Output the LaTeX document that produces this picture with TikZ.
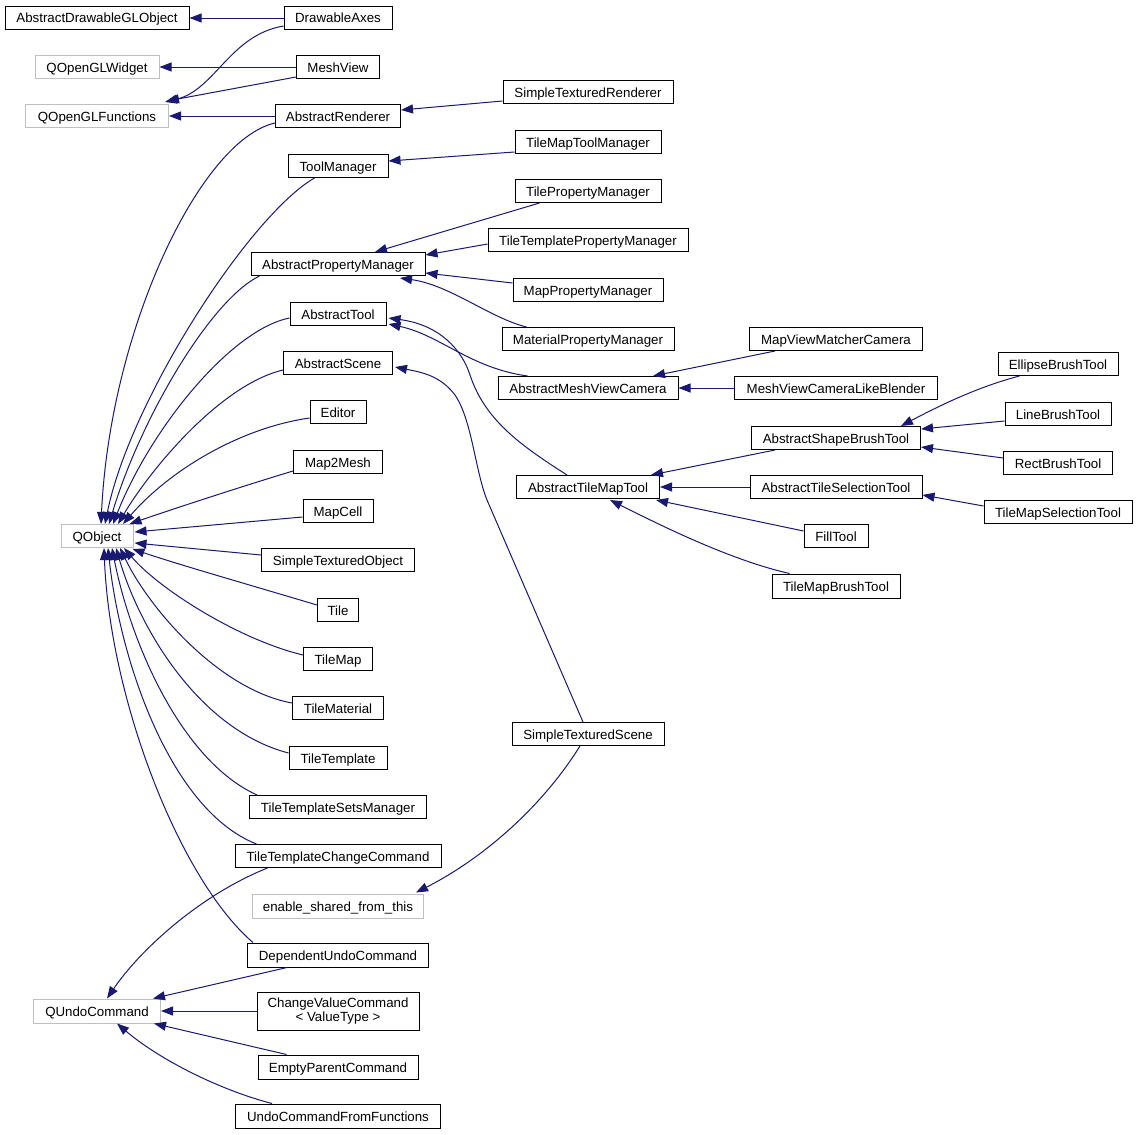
\documentclass[tikz,border=0pt]{standalone}
\usepackage{fontspec}
\setmainfont{Liberation Sans}
\usetikzlibrary{arrows.meta}
\definecolor{navy}{HTML}{191970}
\definecolor{extgray}{HTML}{BFBFBF}
\newcommand\dxfont{\fontsize{13.3}{15}\selectfont}
\begin{document}
\begin{tikzpicture}[x=1pt,y=-1pt,
  basebox/.style={draw=black, line width=1pt, fill=white, minimum height=23pt, inner sep=0pt, font=\dxfont},
  cls/.style={basebox, text height=10pt, text depth=0pt},
  ext/.style={cls, draw=extgray},
  edge/.style={draw=navy, line width=1pt, -{Triangle[length=12pt,width=9pt]}}]
\useasboundingbox (0,0) rectangle (1138,1135);
% nodes
\node[cls, minimum width=184pt] (adgl) at (97,18) {AbstractDrawableGLObject};
\node[cls, minimum width=108pt] (daxes) at (338,18) {DrawableAxes};
\node[ext, minimum width=124pt] (qglw) at (97,67) {QOpenGLWidget};
\node[cls, minimum width=83pt] (meshview) at (338,67) {MeshView};
\node[ext, minimum width=143pt] (qglf) at (97,116) {QOpenGLFunctions};
\node[cls, minimum width=125pt] (arend) at (338,116) {AbstractRenderer};
\node[cls, minimum width=170pt] (strend) at (588,92) {SimpleTexturedRenderer};
\node[cls, minimum width=100pt] (toolmgr) at (338,166) {ToolManager};
\node[cls, minimum width=146pt] (tmtm) at (588,142) {TileMapToolManager};
\node[cls, minimum width=146pt] (tpm) at (588,191) {TilePropertyManager};
\node[cls, minimum width=174pt] (apm) at (338,264) {AbstractPropertyManager};
\node[cls, minimum width=200pt] (ttpm) at (588,240) {TileTemplatePropertyManager};
\node[cls, minimum width=150pt] (mpm) at (588,290) {MapPropertyManager};
\node[cls, minimum width=172pt] (matpm) at (588,339) {MaterialPropertyManager};
\node[cls, minimum width=96pt] (atool) at (338,314) {AbstractTool};
\node[cls, minimum width=109pt] (ascene) at (338,363) {AbstractScene};
\node[cls, minimum width=180pt] (amvc) at (588,388) {AbstractMeshViewCamera};
\node[cls, minimum width=173pt] (mvmc) at (836,339) {MapViewMatcherCamera};
\node[cls, minimum width=203pt] (mvclb) at (836,388) {MeshViewCameraLikeBlender};
\node[cls, minimum width=56pt] (editor) at (338,412) {Editor};
\node[cls, minimum width=89pt] (map2mesh) at (338,462) {Map2Mesh};
\node[cls, minimum width=70pt] (mapcell) at (338,511) {MapCell};
\node[ext, minimum width=72pt] (qobject) at (97,536) {QObject};
\node[cls, minimum width=153pt] (sto) at (338,560) {SimpleTexturedObject};
\node[cls, minimum width=41pt] (tile) at (338,610) {Tile};
\node[cls, minimum width=69pt] (tilemap) at (338,659) {TileMap};
\node[cls, minimum width=91pt] (tilematerial) at (338,708) {TileMaterial};
\node[cls, minimum width=98pt] (tiletemplate) at (338,758) {TileTemplate};
\node[cls, minimum width=177pt] (ttsm) at (338,807) {TileTemplateSetsManager};
\node[cls, minimum width=206pt] (ttcc) at (338,856) {TileTemplateChangeCommand};
\node[ext, minimum width=171pt, minimum height=24pt] (esft) at (338,906) {enable\_shared\_from\_this};
\node[cls, minimum width=181pt, minimum height=24pt] (duc) at (338,955) {DependentUndoCommand};
\node[ext, minimum width=127pt, minimum height=24pt] (quc) at (97,1011) {QUndoCommand};
\node[basebox, minimum width=162pt, minimum height=38pt, align=center] (cvc) at (338,1011) {ChangeValueCommand\\[-1pt]{<} ValueType {>}};
\node[cls, minimum width=160pt, minimum height=24pt] (epc) at (338,1067) {EmptyParentCommand};
\node[cls, minimum width=205pt, minimum height=24pt] (ucff) at (338,1116) {UndoCommandFromFunctions};
\node[cls, minimum width=152pt] (sts) at (588,734) {SimpleTexturedScene};
\node[cls, minimum width=143pt] (atmt) at (588,487) {AbstractTileMapTool};
\node[cls, minimum width=169pt] (asbt) at (836,438) {AbstractShapeBrushTool};
\node[cls, minimum width=172pt] (atst) at (836,487) {AbstractTileSelectionTool};
\node[cls, minimum width=64pt] (filltool) at (836,536) {FillTool};
\node[cls, minimum width=128pt, minimum height=24pt] (tmbt) at (836,586) {TileMapBrushTool};
\node[cls, minimum width=120pt] (ebt) at (1058,364) {EllipseBrushTool};
\node[cls, minimum width=106pt] (lbt) at (1058,414) {LineBrushTool};
\node[cls, minimum width=109pt] (rbt) at (1058,463) {RectBrushTool};
\node[cls, minimum width=148pt] (tmst) at (1058,512) {TileMapSelectionTool};
% edges: upper left
\draw[edge] (daxes.west) -- (adgl.east);
\draw[edge] ([shift={(0,8)}]daxes.west) .. controls (230,35) and (215,90) .. ([shift={(-4,-2)}]qglf.north east);
\draw[edge] (meshview.west) -- (qglw.east);
\draw[edge] ([shift={(0,-2)}]meshview.south west) -- ([shift={(-2,-3)}]qglf.north east);
\draw[edge] (arend.west) -- (qglf.east);
\draw[edge] ([shift={(0,-3)}]strend.south west) -- ([shift={(0,-6)}]arend.east);
\draw[edge] ([shift={(0,-2)}]tmtm.south west) -- ([shift={(0,-5)}]toolmgr.east);
% property managers
\draw[edge] ([shift={(25,0)}]tpm.south west) -- ([shift={(37,0)}]apm.north);
\draw[edge] ([shift={(0,4)}]ttpm.west) -- ([shift={(0,-9)}]apm.east);
\draw[edge] ([shift={(0,-7)}]mpm.west) -- ([shift={(0,9)}]apm.east);
\draw[edge] ([shift={(25,0)}]matpm.north west) .. controls (490,318) and (450,285) .. ([shift={(62,2)}]apm.south);
% tools
\draw[edge] ([shift={(30,0)}]amvc.north west) .. controls (470,368) and (440,335) .. ([shift={(2,10)}]atool.east);
\draw[edge] ([shift={(-21,0)}]atmt.north) .. controls (520,445) and (485,420) .. (470,375) .. controls (462,350) and (440,325) .. ([shift={(2,4)}]atool.east);
\draw[edge] ([shift={(26,0)}]mvmc.south west) -- ([shift={(65,0)}]amvc.north);
\draw[edge] (mvclb.west) -- (amvc.east);
\draw[edge] ([shift={(24,0)}]asbt.south west) -- ([shift={(-9,0)}]atmt.north east);
\draw[edge] (atst.west) -- (atmt.east);
\draw[edge] ([shift={(0,-5)}]filltool.west) -- ([shift={(-4,1)}]atmt.south east);
\draw[edge] ([shift={(18,0)}]tmbt.north west) .. controls (730,560) and (660,525) .. ([shift={(22,1)}]atmt.south);
\draw[edge] ([shift={(22,0)}]ebt.south west) .. controls (985,385) and (950,400) .. ([shift={(-20,0)}]asbt.north east);
\draw[edge] ([shift={(0,7)}]lbt.west) -- ([shift={(0,-9)}]asbt.east);
\draw[edge] ([shift={(0,-5)}]rbt.west) -- ([shift={(0,9)}]asbt.east);
\draw[edge] ([shift={(0,-6)}]tmst.west) -- ([shift={(0,8)}]atst.east);
% scenes
\draw[edge] ([shift={(-5,0)}]sts.north) -- (487,500) .. controls (475,470) and (472,420) .. (455,395) .. controls (440,375) and (420,372) .. ([shift={(2,4)}]ascene.east);
\draw[edge] ([shift={(-8,0)}]sts.south) .. controls (540,810) and (480,860) .. ([shift={(-8,-1)}]esft.north east);
% QObject fan, top
\draw[edge] ([shift={(0,7)}]arend.west) .. controls (200,140) and (110,330) .. ([shift={(4,0)}]qobject.north);
\draw[edge] ([shift={(27,0)}]toolmgr.south west) .. controls (250,215) and (130,400) .. ([shift={(8,0)}]qobject.north);
\draw[edge] ([shift={(9,0)}]apm.south west) .. controls (210,300) and (140,420) .. ([shift={(12,0)}]qobject.north);
\draw[edge] ([shift={(0,4)}]atool.west) .. controls (230,330) and (150,430) .. ([shift={(16,0)}]qobject.north);
\draw[edge] ([shift={(0,7)}]ascene.west) .. controls (220,385) and (150,470) .. ([shift={(21,0)}]qobject.north);
\draw[edge] ([shift={(0,6)}]editor.west) .. controls (240,428) and (170,470) .. ([shift={(26,0)}]qobject.north);
\draw[edge] ([shift={(0,9)}]map2mesh.west) .. controls (240,487) and (170,510) .. ([shift={(-4,0)}]qobject.north east);
\draw[edge] ([shift={(0,6)}]mapcell.west) -- ([shift={(1,-4)}]qobject.east);
% QObject fan, bottom
\draw[edge] ([shift={(0,-5)}]sto.west) -- ([shift={(1,7)}]qobject.east);
\draw[edge] ([shift={(0,-5)}]tile.west) .. controls (250,585) and (180,565) .. ([shift={(-1,1)}]qobject.south east);
\draw[edge] ([shift={(0,-4)}]tilemap.west) .. controls (240,640) and (160,590) .. ([shift={(27,0)}]qobject.south);
\draw[edge] ([shift={(0,-5)}]tilematerial.west) .. controls (220,690) and (150,610) .. ([shift={(23,0)}]qobject.south);
\draw[edge] ([shift={(0,-5)}]tiletemplate.west) .. controls (200,730) and (140,630) .. ([shift={(19,0)}]qobject.south);
\draw[edge] ([shift={(8,0)}]ttsm.north west) .. controls (180,760) and (130,640) .. ([shift={(15,0)}]qobject.south);
\draw[edge] ([shift={(22,0)}]ttcc.north west) .. controls (170,810) and (120,660) .. ([shift={(11,0)}]qobject.south);
\draw[edge] ([shift={(6,0)}]duc.north west) .. controls (180,880) and (110,700) .. ([shift={(7,0)}]qobject.south);
% QUndoCommand
\draw[edge] ([shift={(33,0)}]ttcc.south west) .. controls (200,895) and (140,950) .. ([shift={(10,0)}]quc.north);
\draw[edge] ([shift={(40,0)}]duc.south west) -- ([shift={(-8,0)}]quc.north east);
\draw[edge] (cvc.west) -- (quc.east);
\draw[edge] ([shift={(29,0)}]epc.north west) -- ([shift={(-7,0)}]quc.south east);
\draw[edge] ([shift={(37,0)}]ucff.north west) .. controls (220,1090) and (160,1060) .. ([shift={(20,0)}]quc.south);
\end{tikzpicture}
\end{document}
